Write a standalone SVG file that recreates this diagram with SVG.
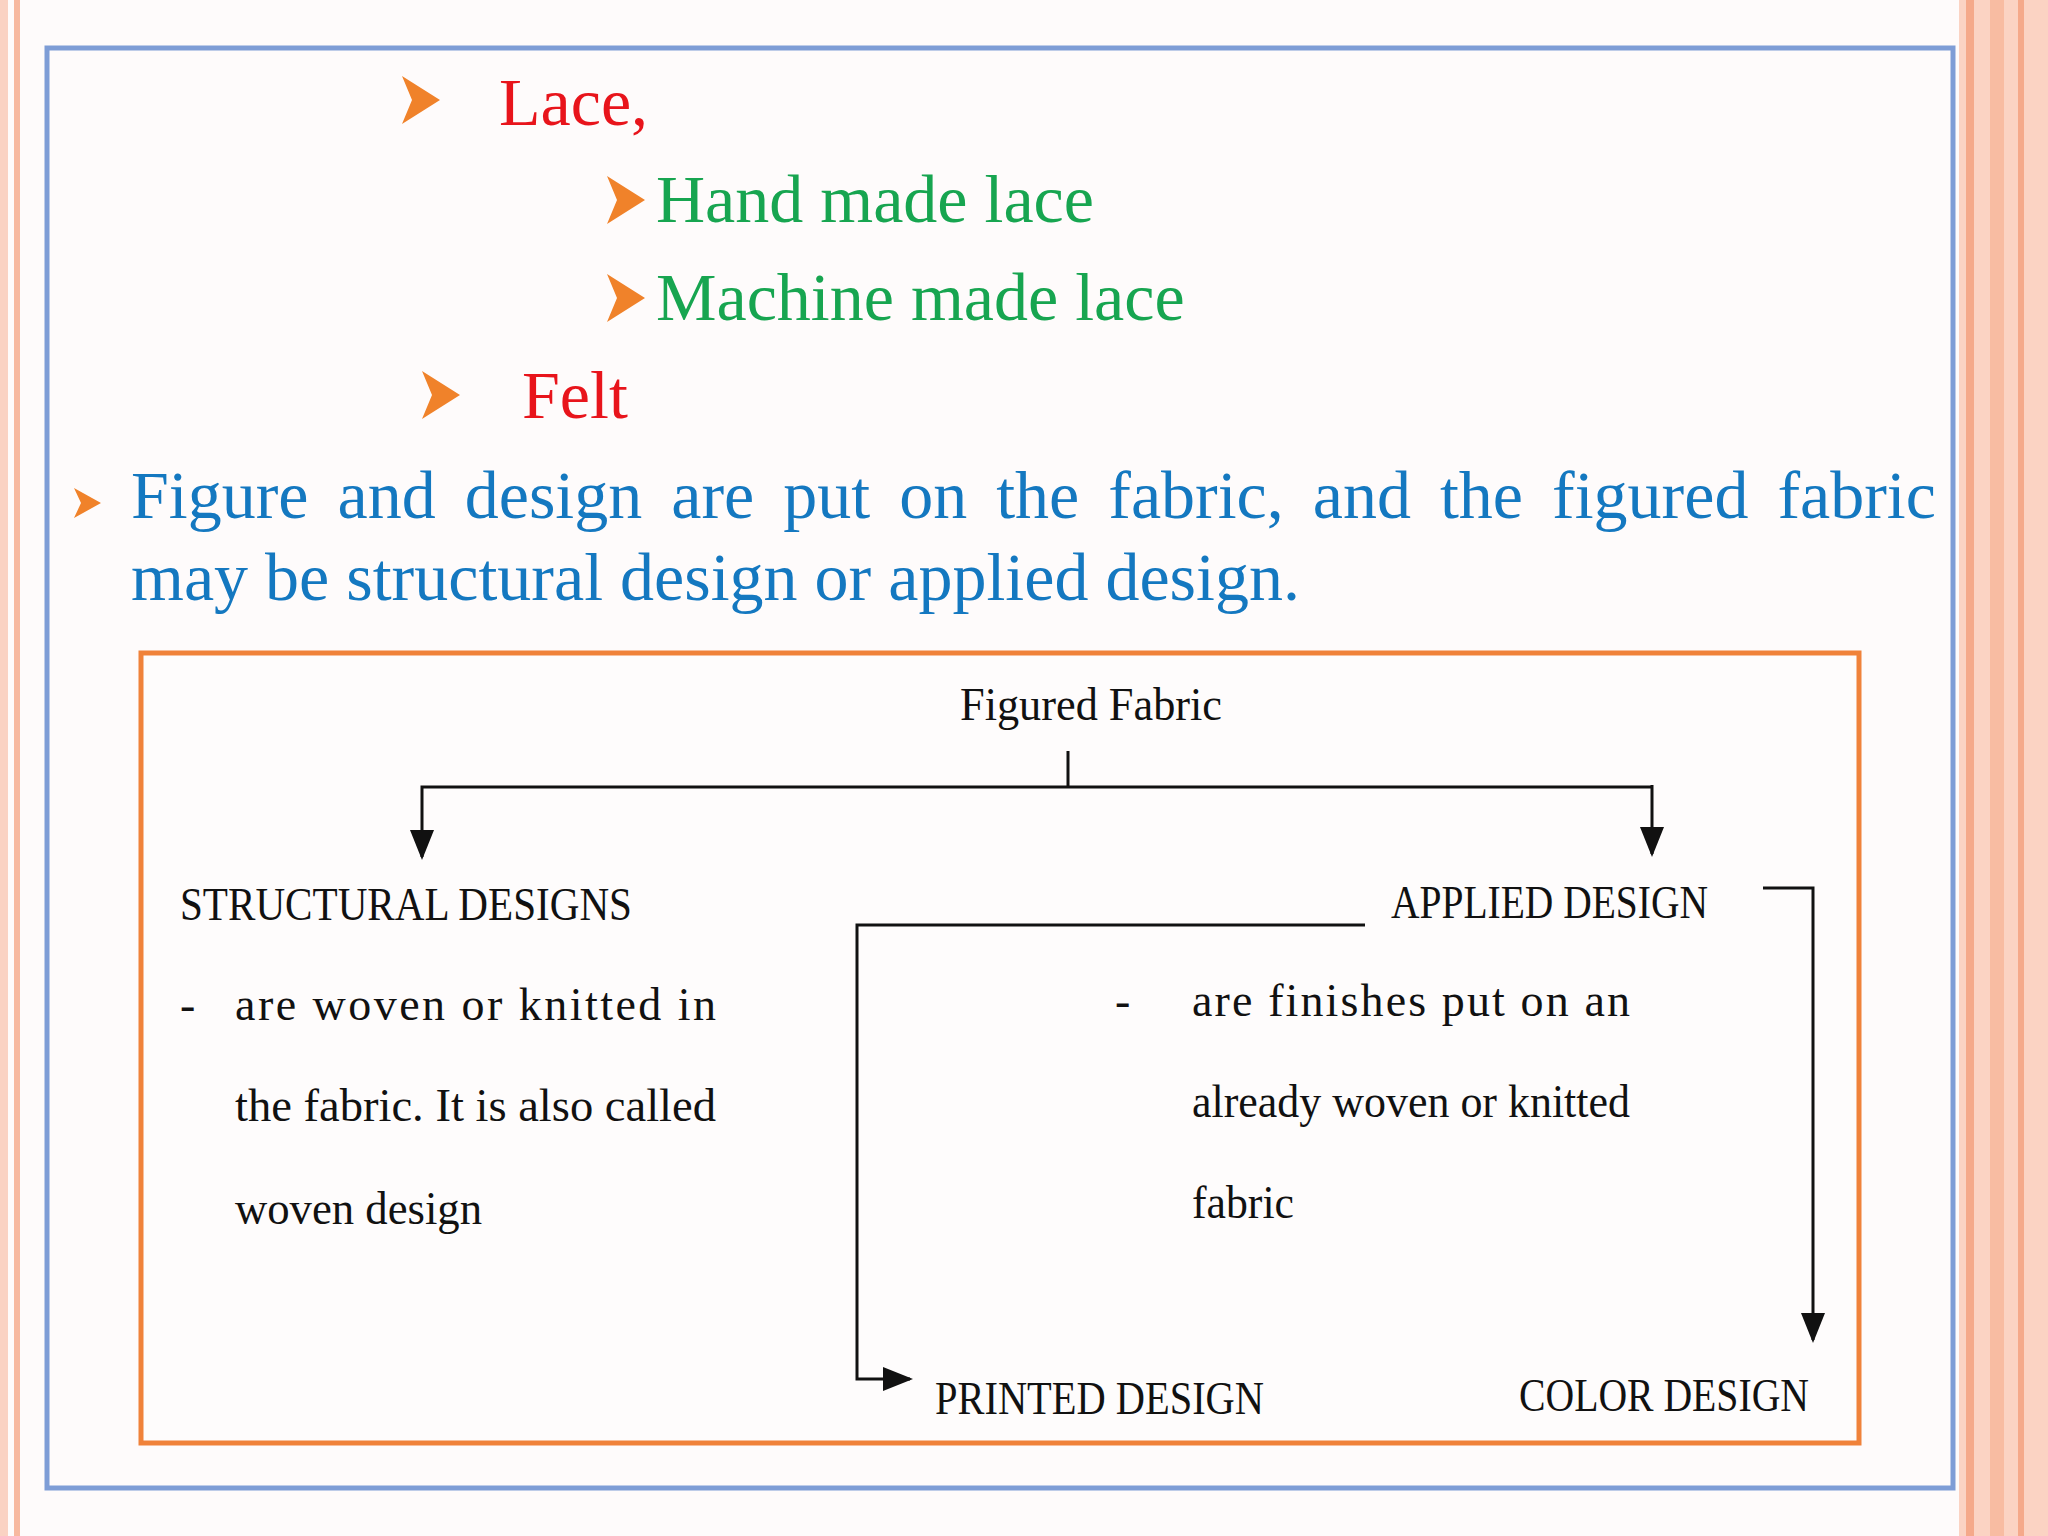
<svg xmlns="http://www.w3.org/2000/svg" width="2048" height="1536" viewBox="0 0 2048 1536">
<style>
.red{font-family:"Liberation Serif",serif;font-size:68px;fill:#E8141B}
.grn{font-family:"Liberation Serif",serif;font-size:68px;fill:#17A550}
.blu{font-family:"Liberation Serif",serif;font-size:68px;fill:#1478C0}
.d{font-family:"Liberation Serif",serif;font-size:46px;fill:#111}
.ln{stroke:#111;stroke-width:3;fill:none}
.bul{fill:#F0822A}
</style>
<defs>
<marker id="ah2" viewBox="0 0 10 10" refX="9" refY="5" markerWidth="30" markerHeight="30" markerUnits="userSpaceOnUse" orient="auto"><path d="M0,1L10,5L0,9z" fill="#111"/></marker>
<path id="arr" d="M0,-24L38,0L0,24L10,0z"/>
</defs>
<rect width="2048" height="1536" fill="#FEFBFB"/>
<rect x="0" y="0" width="8" height="1536" fill="#FAD2C3"/>
<rect x="14" y="0" width="6" height="1536" fill="#F7B9A0"/>
<rect x="1959" y="0" width="89" height="1536" fill="#FBD3C3"/>
<rect x="1966" y="0" width="8" height="1536" fill="#F5A98A"/>
<rect x="1990" y="0" width="14" height="1536" fill="#F8BCA2"/>
<rect x="2018" y="0" width="6" height="1536" fill="#F5A98A"/>
<rect x="47" y="48" width="1906" height="1440" fill="none" stroke="#7E9DD6" stroke-width="5"/>
<g id="bullets">
<use href="#arr" x="402" y="100" class="bul"/>
<use href="#arr" x="607" y="200" class="bul"/>
<use href="#arr" x="607" y="298" class="bul"/>
<use href="#arr" x="422" y="395" class="bul"/>
<path d="M74,488L101,503L74,518L81,503z" class="bul"/>
</g>
<text x="499" y="125" class="red">Lace,</text>
<text x="656" y="222" class="grn">Hand made lace</text>
<text x="656" y="320" class="grn">Machine made lace</text>
<text x="522" y="418" class="red">Felt</text>
<text x="131" y="518" class="blu" word-spacing="12">Figure and design are put on the fabric, and the figured fabric</text>
<text x="131" y="600" class="blu">may be structural design or applied design.</text>
<rect x="141" y="653" width="1718" height="790" fill="#FEFCFC" stroke="#F0823A" stroke-width="5"/>
<g id="connectors">
<path class="ln" d="M1068,751V787"/>
<path class="ln" d="M1652,787H422V857" marker-end="url(#ah2)"/>
<path class="ln" d="M1652,785V854" marker-end="url(#ah2)"/>
<path class="ln" d="M1365,925H857V1379H910" marker-end="url(#ah2)"/>
<path class="ln" d="M1763,888H1813V1340" marker-end="url(#ah2)"/>
</g>
<g id="n-figured"><text x="960" y="720" class="d" textLength="262" lengthAdjust="spacingAndGlyphs">Figured Fabric</text></g>
<g id="n-structural">
<text x="180" y="920" class="d" textLength="452" lengthAdjust="spacingAndGlyphs">STRUCTURAL DESIGNS</text>
<text x="180" y="1020" class="d">-</text>
<text x="235" y="1020" class="d" textLength="481" lengthAdjust="spacing">are woven or knitted in</text>
<text x="235" y="1121" class="d" textLength="481" lengthAdjust="spacingAndGlyphs">the fabric. It is  also called</text>
<text x="235" y="1224" class="d" textLength="247" lengthAdjust="spacingAndGlyphs">woven design</text>
</g>
<g id="n-applied">
<text x="1391" y="918" class="d" textLength="317" lengthAdjust="spacingAndGlyphs">APPLIED DESIGN</text>
<text x="1115" y="1016" class="d">-</text>
<text x="1192" y="1016" class="d" textLength="438" lengthAdjust="spacing">are finishes put on an</text>
<text x="1192" y="1117" class="d" textLength="438" lengthAdjust="spacingAndGlyphs">already woven or knitted</text>
<text x="1192" y="1218" class="d" textLength="102" lengthAdjust="spacingAndGlyphs">fabric</text>
</g>
<g id="n-printed"><text x="935" y="1414" class="d" textLength="329" lengthAdjust="spacingAndGlyphs">PRINTED DESIGN</text></g>
<g id="n-color"><text x="1519" y="1411" class="d" textLength="290" lengthAdjust="spacingAndGlyphs">COLOR DESIGN</text></g>
</svg>
